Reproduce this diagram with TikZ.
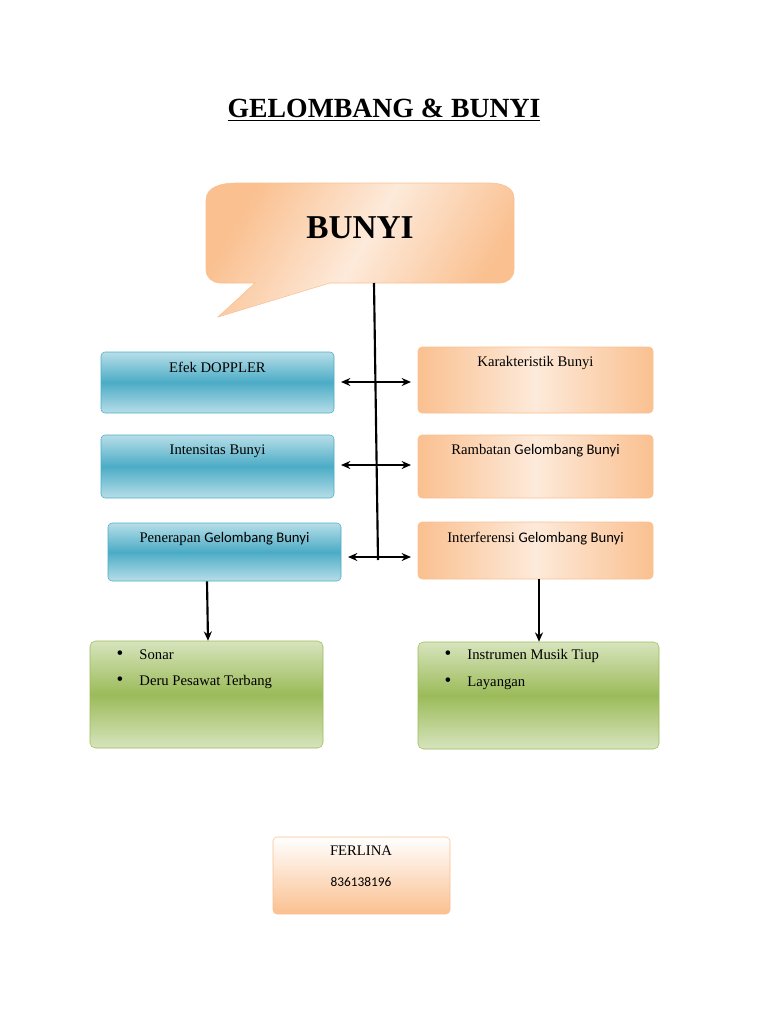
\documentclass[tikz,border=0pt]{standalone}
\usepackage{fontspec}
\setmainfont{Liberation Serif}
\newfontfamily\carl{Carlito}
\usetikzlibrary{arrows.meta}
\definecolor{bmid}{HTML}{4BACC6}
\definecolor{blt}{HTML}{B7DEE8}
\definecolor{bdr}{HTML}{4BACC6}
\definecolor{omid}{HTML}{FDEADA}
\definecolor{oout}{HTML}{FAC090}
\definecolor{odr}{HTML}{FAC090}
\definecolor{gmid}{HTML}{9BBB59}
\definecolor{glt}{HTML}{D7E4BD}
\definecolor{gdr}{HTML}{9BBB59}
\begin{document}
\begin{tikzpicture}[x=0.75pt,y=-0.75pt,
 blue/.style={draw=bdr, rounded corners=3pt, top color=blt, bottom color=blt, middle color=bmid},
 orng/.style={draw=odr, rounded corners=3pt, left color=oout, right color=oout, middle color=omid},
 grn/.style={draw=gdr, rounded corners=4pt, top color=glt, bottom color=glt, middle color=gmid},
 txt/.style={font=\fontsize{11pt}{13pt}\selectfont, anchor=north},
 dbl/.style={{Stealth[length=7pt,width=6pt]}-{Stealth[length=7pt,width=6pt]}, line width=1.3pt},
 dn/.style={-{Stealth[length=7pt,width=6pt]}, line width=1.6pt},
 bl/.style={font=\fontsize{11pt}{13pt}\selectfont, anchor=west}]
\useasboundingbox (0,0) rectangle (768,1024);
\node[font=\bfseries\fontsize{20.8pt}{24pt}\selectfont] (title) at (384,110) {\underline{GELOMBANG \& BUNYI}};
% callout
\path[draw=odr, shading=axis, left color=oout, right color=oout, middle color=omid, shading angle=60]
 (206,200) to[out=90,in=180] (235,183) -- (490,183) to[out=0,in=90] (514,198) -- (514,270) to[out=-90,in=0] (500,283)
 -- (330,283) -- (218,317) -- (255,283) -- (220,283) to[out=180,in=-90] (206,270) -- cycle;
\node[font=\bfseries\fontsize{25pt}{30pt}\selectfont] (bunyi) at (360,228) {BUNYI};
\coordinate (t) at (374,283);
\coordinate (b) at (378,560);
\draw[line width=1.6pt] (t) -- (b);
% blue boxes
\node[blue, minimum width=233*0.75pt, minimum height=61*0.75pt] (b1) at (217.5,382.5) {};
\node[txt] at (217.5,357) {Efek DOPPLER};
\node[blue, minimum width=233*0.75pt, minimum height=63*0.75pt] (b2) at (217.5,466.5) {};
\node[txt] at (217.5,440) {Intensitas Bunyi};
\node[blue, minimum width=233*0.75pt, minimum height=58*0.75pt] (b3) at (224.5,552) {};
\node[txt] at (224.5,528) {Penerapan {\carl Gelombang Bunyi}};
% orange boxes
\node[orng, minimum width=235*0.75pt, minimum height=66*0.75pt] (o1) at (535.5,380) {};
\node[txt] at (535.5,352) {Karakteristik Bunyi};
\node[orng, minimum width=235*0.75pt, minimum height=63*0.75pt] (o2) at (535.5,466.5) {};
\node[txt] at (535.5,440) {Rambatan {\carl Gelombang Bunyi}};
\node[orng, minimum width=235*0.75pt, minimum height=57*0.75pt] (o3) at (535.5,550.5) {};
\node[txt] at (535.5,527) {Interferensi {\carl Gelombang Bunyi}};
% double arrows
\coordinate (a1l) at (341,382); \coordinate (a1r) at (411,382);
\coordinate (a2l) at (341,465); \coordinate (a2r) at (411,465);
\coordinate (a3l) at (348,557); \coordinate (a3r) at (411,557);
\draw[dbl] (a1l) -- (a1r);
\draw[dbl] (a2l) -- (a2r);
\draw[dbl] (a3l) -- (a3r);
% green boxes
\node[grn, minimum width=233*0.75pt, minimum height=107*0.75pt] (g1) at (206.5,694.5) {};
\node[grn, minimum width=241*0.75pt, minimum height=107*0.75pt] (g2) at (538.5,695.5) {};
\draw[dn] (b3.south -| 207,0) -- (g1.north -| 208,0);
\draw[dn] (o3.south -| 539,0) -- (g2.north -| 539,0);
\node[bl] at (112,655) {{\Large\textbullet}\hspace{12pt}Sonar};
\node[bl] at (112,682) {{\Large\textbullet}\hspace{12pt}Deru Pesawat Terbang};
\node[bl] at (440,656) {{\Large\textbullet}\hspace{12pt}Instrumen Musik Tiup};
\node[bl] at (440,683) {{\Large\textbullet}\hspace{12pt}Layangan};
% name box
\node[draw=odr, rounded corners=3pt, top color=white, bottom color=oout, minimum width=177*0.75pt, minimum height=77*0.75pt] (nm) at (361.5,875.5) {};
\node[font=\fontsize{11pt}{13pt}\selectfont] at (361,851) {FERLINA};
\node[font=\carl\fontsize{10pt}{12pt}\selectfont] at (361,882) {836138196};
\end{tikzpicture}
\end{document}
